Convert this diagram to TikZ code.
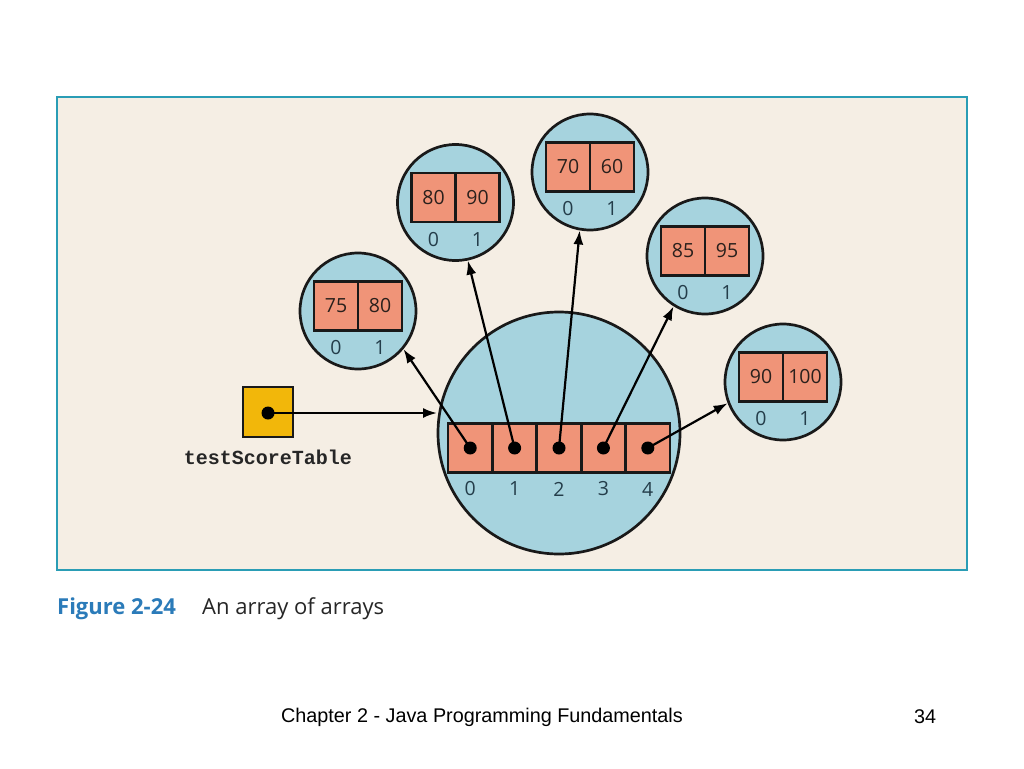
\documentclass[tikz,border=0pt]{standalone}
\usepackage{fontspec}
\setmainfont{Open Sans}
\newfontfamily\monob{Liberation Mono}
\newfontfamily\arialf{Liberation Sans}
\usetikzlibrary{arrows.meta}
\definecolor{cream}{HTML}{F5EEE4}
\definecolor{framec}{HTML}{2A9DB5}
\definecolor{bluec}{HTML}{A6D3DE}
\definecolor{orangec}{HTML}{F09478}
\definecolor{yellowc}{HTML}{F2B70A}
\definecolor{idxc}{HTML}{243D4A}
\definecolor{numc}{HTML}{2A201C}
\definecolor{figblue}{HTML}{2B7BB9}
\newcommand\subarr[5]{%
  \node[bluecirc] (#1) at (#2,#3) {};
  \node[cell] (#1a) at ({#2-22},{#3-5}) {#4};
  \node[cell] (#1b) at ({#2+22},{#3-5}) {#5};
  \node[idx] (#1i0) at ({#2-22},{#3+37}) {0};
  \node[idx] (#1i1) at ({#2+22},{#3+37}) {1};
}
\begin{document}
\begin{tikzpicture}[x=1pt,y=-1pt,
  frame/.style={draw=framec,line width=2.8pt,fill=cream},
  bluecirc/.style={circle,draw=black!90,line width=2.7pt,fill=bluec,minimum size=116pt,inner sep=0pt},
  bigcirc/.style={circle,draw=black!90,line width=2.7pt,fill=bluec,minimum size=242pt,inner sep=0pt},
  cell/.style={rectangle,draw=black!90,line width=2.7pt,fill=orangec,minimum width=44pt,minimum height=49pt,inner sep=0pt,font=\fontsize{19.5}{19.5}\selectfont,text=numc},
  bigcell/.style={cell,minimum width=44.4pt},
  idx/.style={inner sep=0pt,font=\fontsize{19.5}{19.5}\selectfont,text=idxc},
  dotc/.style={circle,fill=black,minimum size=13pt,inner sep=0pt},
  arr/.style={line width=2.2pt,-{Latex[length=14pt,width=10pt]}},
  refbox/.style={rectangle,draw=black!90,line width=2.7pt,fill=yellowc,minimum size=50pt,inner sep=0pt}
]
\useasboundingbox (0,0) rectangle (1024,768);
\fill[white] (0,0) rectangle (1024,768);
\draw[frame] (57,97) rectangle (967,570);

% big circle and outer array
\node[bigcirc] (big) at (559,433) {};
\foreach \i/\x in {0/470.2,1/514.6,2/559,3/603.4,4/647.8}{
  \node[bigcell] (m\i) at (\x,448) {};
  \node[dotc] (d\i) at (\x,448) {};
  \node[idx] (mi\i) at (\x,489) {\i};
}

% sub-arrays
\subarr{c1}{358}{311}{75}{80}
\subarr{c2}{455.5}{202.5}{80}{90}
\subarr{c3}{590}{172}{70}{60}
\subarr{c4}{705}{256}{85}{95}
\subarr{c5}{783}{382}{90}{100}

% reference variable
\node[refbox] (ref) at (268,412) {};
\node[dotc] (rd) at (268,413) {};
\node[inner sep=0pt,font=\monob\bfseries\fontsize{20}{20}\selectfont,text=black!85] (lbl) at (268,457) {testScoreTable};
\coordinate (tip) at (437,413);

% connectors
\draw[arr] (rd.center) -- (tip);
\draw[arr] (d0.center) -- (c1.-40);
\draw[arr] (d1.center) -- (c2.-78);
\draw[arr] (d2.center) -- (c3.-100);
\draw[arr] (d3.center) -- (c4.-122);
\draw[arr] (d4.center) -- (c5.-159);

% caption and footer
\node[anchor=base west,inner sep=0pt,font=\bfseries\fontsize{22}{22}\selectfont,text=figblue] (fig) at (57,614) {Figure 2-24};
\node[anchor=base west,inner sep=0pt,font=\fontsize{22}{22}\selectfont,text=black!85] (cap) at (202,614) {An array of arrays};
\node[inner sep=0pt,font=\arialf\fontsize{19.8}{19.8}\selectfont] (foot) at (482,717) {Chapter 2 - Java Programming Fundamentals};
\node[inner sep=0pt,font=\arialf\fontsize{19.8}{19.8}\selectfont] (pg) at (925,717) {34};
\end{tikzpicture}
\end{document}
